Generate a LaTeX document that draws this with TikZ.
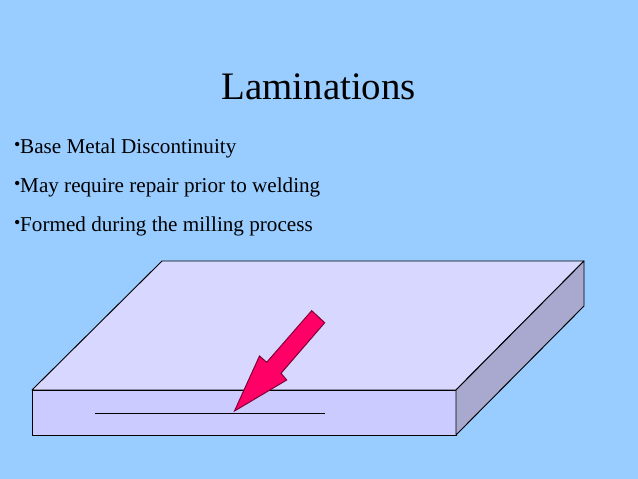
\documentclass[tikz,border=0pt]{standalone}
\usepackage{fontspec}
\setmainfont{Liberation Serif}
\definecolor{slidebg}{HTML}{99CCFF}
\definecolor{platetop}{HTML}{D7D7FF}
\definecolor{platefront}{HTML}{CBCBFF}
\definecolor{plateside}{HTML}{A9A9CF}
\definecolor{pointer}{HTML}{FF0066}
\newcommand{\dotmark}{\makebox[6pt][l]{\raisebox{0.3ex}{\fontsize{18pt}{18pt}\selectfont\textbullet}}}
\begin{document}
\begin{tikzpicture}[
  x=1pt, y=-1pt,
  every node/.style={inner sep=0pt, text=black},
  titletext/.style={anchor=base, font=\fontsize{38.9pt}{40pt}\selectfont},
  itemtext/.style={anchor=base west, font=\fontsize{21.15pt}{24pt}\selectfont},
  face/.style={draw=black, line width=0.95pt, line join=round},
  crack/.style={draw=black, line width=0.9pt},
  pointerarrow/.style={draw=pointer!50!black, line width=1pt, fill=pointer, line join=miter}
]
\useasboundingbox (0,0) rectangle (638,479);
\fill[slidebg] (0,0) rectangle (638,479);
\node (title) [titletext] at (318.7,99) {Laminations};
\node (base) [itemtext] at (14,153) {\dotmark Base Metal Discontinuity};
\node (repair) [itemtext] at (14,192) {\dotmark May require repair prior to welding};
\node (milling) [itemtext] at (14,231) {\dotmark Formed during the milling process};
% plate corners
\coordinate (backleft) at (162,261);
\coordinate (backright) at (584,261);
\coordinate (frontleft) at (32,390);
\coordinate (frontright) at (456,390);
\coordinate (lowleft) at (32,435);
\coordinate (lowright) at (456,435);
\coordinate (lowback) at (584,306);
\draw[face, fill=platetop] (backleft) -- (backright) -- (frontright) -- (frontleft) -- cycle;
\draw[face, fill=platefront] (frontleft) -- (frontright) -- (lowright) -- (lowleft) -- cycle;
\draw[face, fill=plateside] (frontright) -- (backright) -- (lowback) -- (lowright) -- cycle;
% lamination line
\coordinate (crackleft) at (95,413.5);
\coordinate (crackright) at (324.5,413.5);
\draw[crack] (crackleft) -- (crackright);
% arrow
\draw[pointerarrow] (234.5,411) -- (259.5,356) -- (266.7,362.3) -- (311.7,310.7)
  -- (324.7,322.7) -- (281,373.3) -- (286.7,380) -- cycle;
\end{tikzpicture}
\end{document}
